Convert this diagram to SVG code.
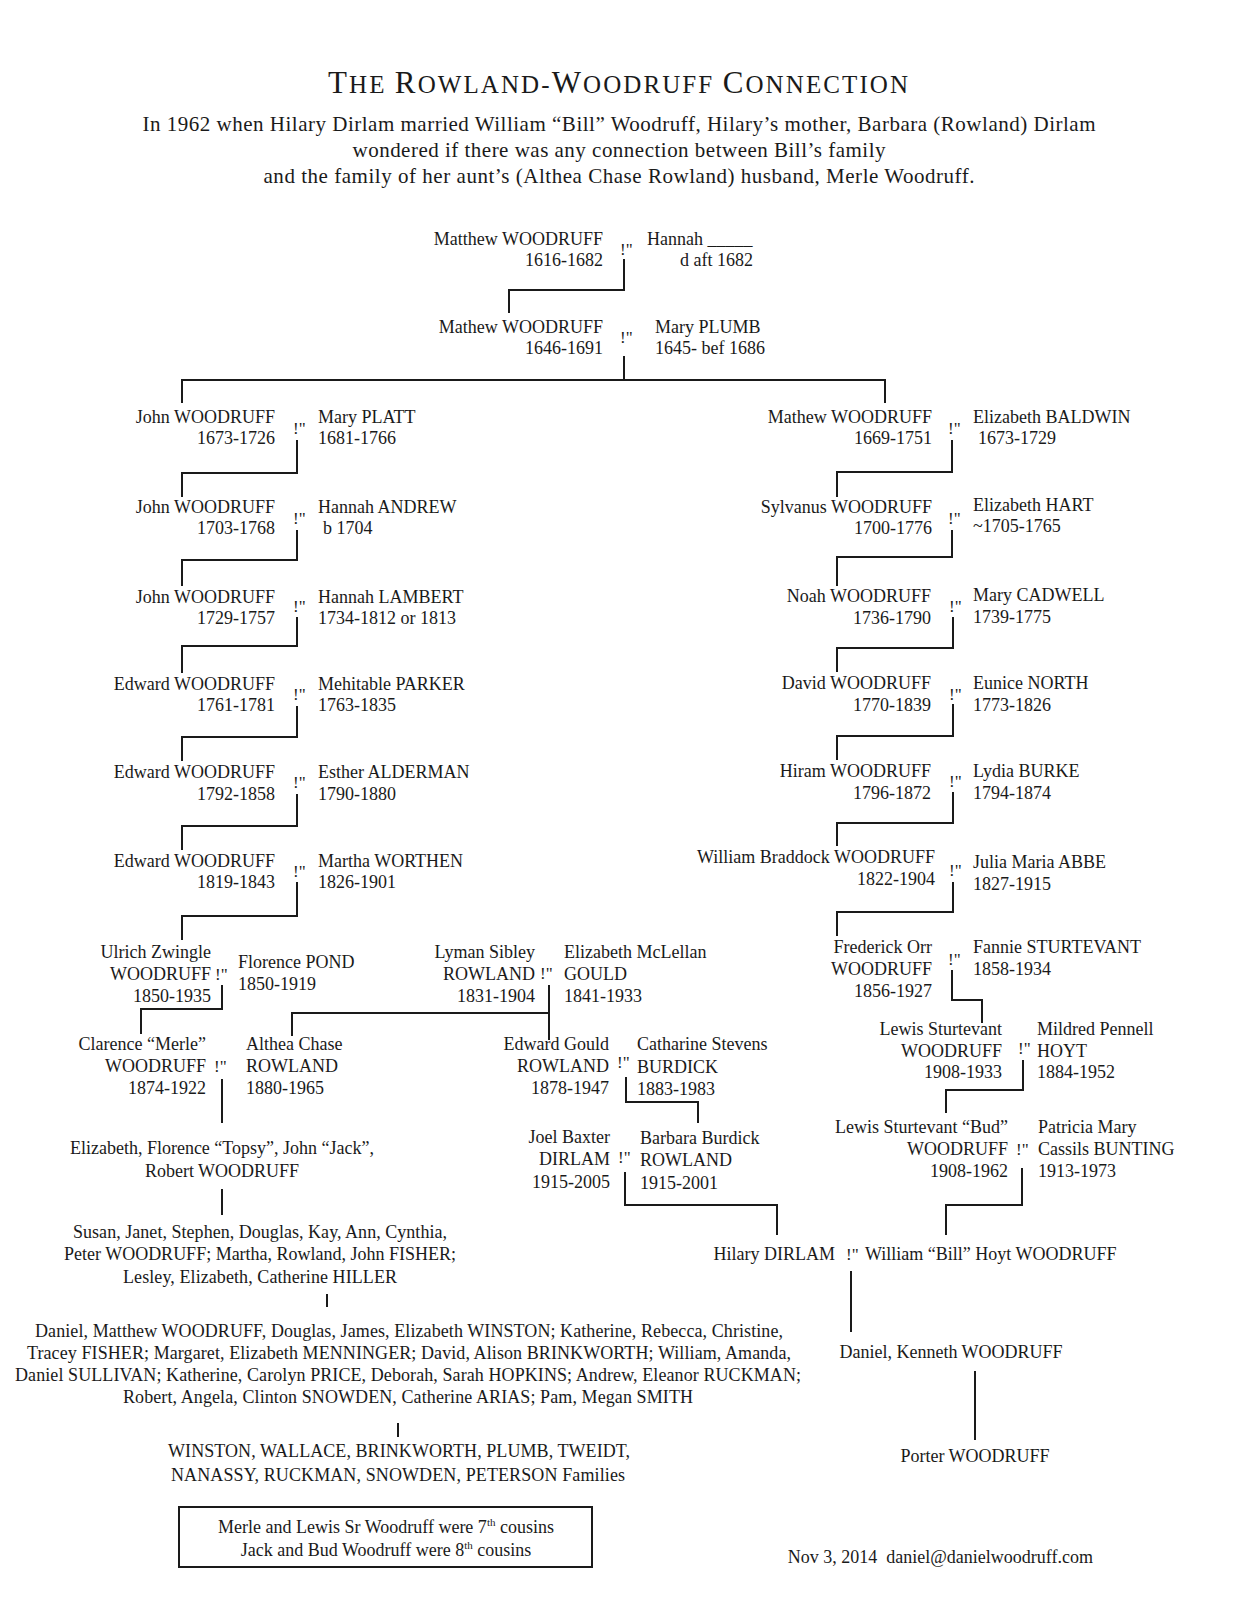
<svg xmlns="http://www.w3.org/2000/svg" width="1237" height="1600" viewBox="0 0 1237 1600">
<style>
text{font-family:"Liberation Serif","Times New Roman",serif;font-size:18px;fill:#1a1a1a}
.e{text-anchor:end}
.m{text-anchor:middle}
.k{font-size:17px}
.sub{font-size:21px}
.big{font-size:31px}
.ln{fill:none;stroke:#1a1a1a;stroke-width:2}
</style>
<rect width="1237" height="1600" fill="#fff"/>
<g id="title">
<text x="618" y="93" class="m" textLength="580" style="font-size:25px"><tspan class="big">T</tspan>HE <tspan class="big">R</tspan>OWLAND-<tspan class="big">W</tspan>OODRUFF <tspan class="big">C</tspan>ONNECTION</text>
<text x="619" y="131" class="m sub" textLength="953">In 1962 when Hilary Dirlam married William “Bill” Woodruff, Hilary’s mother, Barbara (Rowland) Dirlam</text>
<text x="619" y="157" class="m sub" textLength="533">wondered if there was any connection between Bill’s family</text>
<text x="619" y="183" class="m sub" textLength="711">and the family of her aunt’s (Althea Chase Rowland) husband, Merle Woodruff.</text>
</g>

<g id="connectors">
<path class="ln" d="M624,259 V290 H509 V313"/>
<path class="ln" d="M624,356 V380 M182,403 V380 H885 V403"/>
<path class="ln" d="M297,440 V473 H182 V497"/>
<path class="ln" d="M297,530 V560 H182 V586"/>
<path class="ln" d="M297,617 V646 H182 V673"/>
<path class="ln" d="M297,706 V737 H182 V761"/>
<path class="ln" d="M297,794 V826 H182 V850"/>
<path class="ln" d="M297,882 V916 H182 V940"/>
<path class="ln" d="M952,440 V472 H837 V497"/>
<path class="ln" d="M952,530 V557 H837 V586"/>
<path class="ln" d="M953,617 V648 H837 V672"/>
<path class="ln" d="M953,704 V736 H837 V760"/>
<path class="ln" d="M953,792 V823 H837 V846"/>
<path class="ln" d="M953,882 V912 H837 V936"/>
<path class="ln" d="M952,970 V1000 H982 V1023"/>
<path class="ln" d="M1023,1060 V1090 H946 V1113"/>
<path class="ln" d="M1022,1168 V1205 H946 V1235"/>
<path class="ln" d="M222,985 V1009 H141 V1034"/>
<path class="ln" d="M549,985 V1040 M292,1036 V1013 H549"/>
<path class="ln" d="M222,1079 V1123"/>
<path class="ln" d="M222,1189 V1215"/>
<path class="ln" d="M327,1294 V1307"/>
<path class="ln" d="M398,1423 V1437"/>
<path class="ln" d="M626,1077 V1102 H698 V1123"/>
<path class="ln" d="M625,1172 V1205 H777 V1235"/>
<path class="ln" d="M851,1271 V1332"/>
<path class="ln" d="M975,1371 V1440"/>
</g>

<g id="matthew-1616">
<text x="603" y="245" class="e">Matthew WOODRUFF</text><text x="603" y="266" class="e">1616-1682</text>
<text x="620" y="255" class="k">!"</text>
<text x="647" y="245">Hannah _____</text><text x="753" y="266" class="e">d aft 1682</text>
</g>
<g id="mathew-1646">
<text x="603" y="333" class="e">Mathew WOODRUFF</text><text x="603" y="354" class="e">1646-1691</text>
<text x="620" y="343" class="k">!"</text>
<text x="655" y="333">Mary PLUMB</text><text x="655" y="354">1645- bef 1686</text>
</g>

<g id="john-1673">
<text x="275" y="423" class="e">John WOODRUFF</text><text x="275" y="444" class="e">1673-1726</text>
<text x="293" y="434" class="k">!"</text>
<text x="318" y="423">Mary PLATT</text><text x="318" y="444">1681-1766</text>
</g>
<g id="john-1703">
<text x="275" y="513" class="e">John WOODRUFF</text><text x="275" y="534" class="e">1703-1768</text>
<text x="293" y="524" class="k">!"</text>
<text x="318" y="513">Hannah ANDREW</text><text x="323" y="534">b 1704</text>
</g>
<g id="john-1729">
<text x="275" y="603" class="e">John WOODRUFF</text><text x="275" y="624" class="e">1729-1757</text>
<text x="293" y="612" class="k">!"</text>
<text x="318" y="603">Hannah LAMBERT</text><text x="318" y="624">1734-1812 or 1813</text>
</g>
<g id="edward-1761">
<text x="275" y="690" class="e">Edward WOODRUFF</text><text x="275" y="711" class="e">1761-1781</text>
<text x="293" y="700" class="k">!"</text>
<text x="318" y="690">Mehitable PARKER</text><text x="318" y="711">1763-1835</text>
</g>
<g id="edward-1792">
<text x="275" y="778" class="e">Edward WOODRUFF</text><text x="275" y="800" class="e">1792-1858</text>
<text x="293" y="788" class="k">!"</text>
<text x="318" y="778">Esther ALDERMAN</text><text x="318" y="800">1790-1880</text>
</g>
<g id="edward-1819">
<text x="275" y="867" class="e">Edward WOODRUFF</text><text x="275" y="888" class="e">1819-1843</text>
<text x="293" y="877" class="k">!"</text>
<text x="318" y="867">Martha WORTHEN</text><text x="318" y="888">1826-1901</text>
</g>

<g id="mathew-1669">
<text x="932" y="423" class="e">Mathew WOODRUFF</text><text x="932" y="444" class="e">1669-1751</text>
<text x="948" y="434" class="k">!"</text>
<text x="973" y="423">Elizabeth BALDWIN</text><text x="978" y="444">1673-1729</text>
</g>
<g id="sylvanus-1700">
<text x="932" y="513" class="e">Sylvanus WOODRUFF</text><text x="932" y="534" class="e">1700-1776</text>
<text x="948" y="524" class="k">!"</text>
<text x="973" y="511">Elizabeth HART</text><text x="973" y="532">~1705-1765</text>
</g>
<g id="noah-1736">
<text x="931" y="602" class="e">Noah WOODRUFF</text><text x="931" y="624" class="e">1736-1790</text>
<text x="949" y="612" class="k">!"</text>
<text x="973" y="601">Mary CADWELL</text><text x="973" y="623">1739-1775</text>
</g>
<g id="david-1770">
<text x="931" y="689" class="e">David WOODRUFF</text><text x="931" y="711" class="e">1770-1839</text>
<text x="949" y="700" class="k">!"</text>
<text x="973" y="689">Eunice NORTH</text><text x="973" y="711">1773-1826</text>
</g>
<g id="hiram-1796">
<text x="931" y="777" class="e">Hiram WOODRUFF</text><text x="931" y="799" class="e">1796-1872</text>
<text x="949" y="787" class="k">!"</text>
<text x="973" y="777">Lydia BURKE</text><text x="973" y="799">1794-1874</text>
</g>
<g id="william-braddock-1822">
<text x="935" y="863" class="e">William Braddock WOODRUFF</text><text x="935" y="885" class="e">1822-1904</text>
<text x="949" y="876" class="k">!"</text>
<text x="973" y="868">Julia Maria ABBE</text><text x="973" y="890">1827-1915</text>
</g>
<g id="frederick-1856">
<text x="932" y="953" class="e">Frederick Orr</text><text x="932" y="975" class="e">WOODRUFF</text><text x="932" y="997" class="e">1856-1927</text>
<text x="948" y="965" class="k">!"</text>
<text x="973" y="953">Fannie STURTEVANT</text><text x="973" y="975">1858-1934</text>
</g>
<g id="lewis-1908">
<text x="1002" y="1035" class="e">Lewis Sturtevant</text><text x="1002" y="1057" class="e">WOODRUFF</text><text x="1002" y="1078" class="e">1908-1933</text>
<text x="1018" y="1054" class="k">!"</text>
<text x="1037" y="1035">Mildred Pennell</text><text x="1037" y="1057">HOYT</text><text x="1037" y="1078">1884-1952</text>
</g>
<g id="lewis-bud-1908">
<text x="1008" y="1133" class="e">Lewis Sturtevant “Bud”</text><text x="1008" y="1155" class="e">WOODRUFF</text><text x="1008" y="1177" class="e">1908-1962</text>
<text x="1016" y="1155" class="k">!"</text>
<text x="1038" y="1133">Patricia Mary</text><text x="1038" y="1155">Cassils BUNTING</text><text x="1038" y="1177">1913-1973</text>
</g>

<g id="ulrich-1850">
<text x="211" y="958" class="e">Ulrich Zwingle</text><text x="211" y="980" class="e">WOODRUFF</text><text x="211" y="1002" class="e">1850-1935</text>
<text x="215" y="980" class="k">!"</text>
<text x="238" y="968">Florence POND</text><text x="238" y="990">1850-1919</text>
</g>
<g id="lyman-1831">
<text x="535" y="958" class="e">Lyman Sibley</text><text x="535" y="980" class="e">ROWLAND</text><text x="535" y="1002" class="e">1831-1904</text>
<text x="540" y="979" class="k">!"</text>
<text x="564" y="958">Elizabeth McLellan</text><text x="564" y="980">GOULD</text><text x="564" y="1002">1841-1933</text>
</g>
<g id="clarence-1874">
<text x="206" y="1050" class="e">Clarence “Merle”</text><text x="206" y="1072" class="e">WOODRUFF</text><text x="206" y="1094" class="e">1874-1922</text>
<text x="214" y="1072" class="k">!"</text>
<text x="246" y="1050">Althea Chase</text><text x="246" y="1072">ROWLAND</text><text x="246" y="1094">1880-1965</text>
</g>
<g id="edward-gould-1878">
<text x="609" y="1050" class="e">Edward Gould</text><text x="609" y="1072" class="e">ROWLAND</text><text x="609" y="1094" class="e">1878-1947</text>
<text x="617" y="1068" class="k">!"</text>
<text x="637" y="1050">Catharine Stevens</text><text x="637" y="1073">BURDICK</text><text x="637" y="1095">1883-1983</text>
</g>
<g id="joel-1915">
<text x="610" y="1143" class="e">Joel Baxter</text><text x="610" y="1165" class="e">DIRLAM</text><text x="610" y="1188" class="e">1915-2005</text>
<text x="618" y="1163" class="k">!"</text>
<text x="640" y="1144">Barbara Burdick</text><text x="640" y="1166">ROWLAND</text><text x="640" y="1189">1915-2001</text>
</g>
<g id="hilary-bill">
<text x="835" y="1260" class="e">Hilary DIRLAM</text>
<text x="846" y="1260" class="k">!"</text>
<text x="865" y="1260">William “Bill” Hoyt WOODRUFF</text>
</g>
<g id="daniel-kenneth">
<text x="951" y="1358" class="m">Daniel, Kenneth WOODRUFF</text>
</g>
<g id="porter">
<text x="975" y="1462" class="m">Porter WOODRUFF</text>
</g>

<g id="merle-children">
<text x="222" y="1154" class="m">Elizabeth, Florence “Topsy”, John “Jack”,</text>
<text x="222" y="1177" class="m">Robert WOODRUFF</text>
</g>
<g id="grandchildren">
<text x="260" y="1238" class="m" textLength="374">Susan, Janet, Stephen, Douglas, Kay, Ann, Cynthia,</text>
<text x="260" y="1260" class="m" textLength="392">Peter WOODRUFF; Martha, Rowland, John FISHER;</text>
<text x="260" y="1283" class="m" textLength="274">Lesley, Elizabeth, Catherine HILLER</text>
</g>
<g id="great-grandchildren">
<text x="409" y="1337" class="m" textLength="748">Daniel, Matthew WOODRUFF, Douglas, James, Elizabeth WINSTON; Katherine, Rebecca, Christine,</text>
<text x="409" y="1359" class="m" textLength="764">Tracey FISHER; Margaret, Elizabeth MENNINGER; David, Alison BRINKWORTH; William, Amanda,</text>
<text x="408" y="1381" class="m" textLength="786">Daniel SULLIVAN; Katherine, Carolyn PRICE, Deborah, Sarah HOPKINS; Andrew, Eleanor RUCKMAN;</text>
<text x="408" y="1403" class="m" textLength="570">Robert, Angela, Clinton SNOWDEN, Catherine ARIAS; Pam, Megan SMITH</text>
</g>
<g id="families">
<text x="399" y="1457" class="m" textLength="462">WINSTON, WALLACE, BRINKWORTH, PLUMB, TWEIDT,</text>
<text x="398" y="1481" class="m" textLength="454">NANASSY, RUCKMAN, SNOWDEN, PETERSON Families</text>
</g>
<g id="cousins-note">
<rect x="179" y="1507" width="413" height="60" fill="none" stroke="#1a1a1a" stroke-width="2"/>
<text x="386" y="1533" class="m">Merle and Lewis Sr Woodruff were 7<tspan font-size="11" dy="-7">th</tspan><tspan dy="7"> cousins</tspan></text>
<text x="386" y="1556" class="m">Jack and Bud Woodruff were 8<tspan font-size="11" dy="-7">th</tspan><tspan dy="7"> cousins</tspan></text>
</g>
<g id="footer">
<text x="1093" y="1563" class="e" style="white-space:pre">Nov 3, 2014  daniel@danielwoodruff.com</text>
</g>
</svg>
